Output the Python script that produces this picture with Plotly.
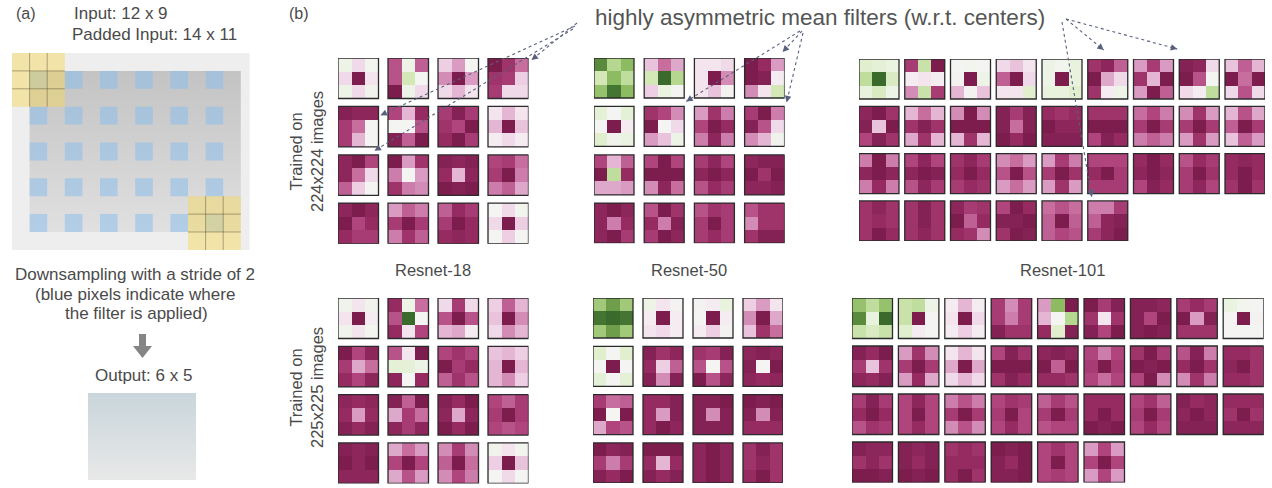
import plotly.graph_objects as go

W, H = 1272, 488
FONT = "Liberation Sans, Arial, Helvetica, sans-serif"
TXT = "#4a4a4a"

# ---------------- data: mean 3x3 filters (PiYG-like scale, -1 = dark pink, +1 = dark green)
resnet18_224 = [
    [[0.05, -0.15, 0.02], [-0.15, -1, -0.1], [0.05, -0.15, 0.03]],
    [[-0.65, 0.05, -0.6], [-0.65, 0.25, 0.0], [-1, 0.05, -0.15]],
    [[-0.2, -0.4, 0.0], [-0.45, -1, -0.4], [-0.15, -0.3, -0.1]],
    [[-1, -0.8, -0.55], [-0.8, -0.75, -0.2], [-0.75, -0.15, -0.15]],
    [[-0.95, -0.9, -0.9], [-0.75, -0.55, 0.0], [-0.75, -0.3, 0.0]],
    [[-0.7, -0.3, -0.85], [0.0, 0.0, -0.65], [-0.95, -0.6, -1]],
    [[-0.75, -0.95, -0.75], [-0.8, -0.7, -1], [-0.85, -1, -0.75]],
    [[-0.1, -0.3, -0.1], [-0.3, -1, -0.25], [-0.05, -0.15, -0.05]],
    [[-0.9, -1, -0.7], [-0.9, -0.55, -0.15], [-0.6, -0.2, 0.0]],
    [[-1, -0.4, -0.8], [-0.5, 0.0, -0.4], [-0.8, -0.5, -0.45]],
    [[-0.95, -0.9, -0.95], [-0.85, -0.3, -0.9], [-1, -0.95, -1]],
    [[-0.7, -0.75, -0.55], [-0.75, -1, -0.5], [-0.5, -0.6, -0.35]],
    [[-0.9, -1, -0.9], [-1, -0.7, -0.85], [-0.85, -0.75, -0.75]],
    [[-0.4, -0.6, -0.5], [-0.75, -1, -0.75], [-0.5, -0.8, -0.6]],
    [[-0.6, -0.85, -0.75], [-0.75, -1, -0.85], [-0.85, -0.9, -0.85]],
    [[0.0, -0.15, 0.02], [-0.15, -1, -0.2], [0.0, -0.2, 0.0]],
]
resnet18_225 = [
    [[0.03, -0.1, 0.03], [-0.1, -1, -0.05], [0.03, -0.1, 0.02]],
    [[-0.85, 0.05, -0.55], [-0.65, 1.0, 0.0], [-0.85, -0.1, -0.7]],
    [[-0.15, -0.75, -0.15], [-0.65, -1, -0.65], [-0.3, -0.35, -0.05]],
    [[-0.2, -0.6, -0.3], [-0.25, -1, -0.45], [-0.15, -0.45, -0.3]],
    [[-1, -0.7, -0.9], [-0.75, -0.35, -0.55], [-0.85, -0.7, -0.9]],
    [[-0.65, -0.1, -1], [0.12, 0.12, 0.05], [-0.9, 0.0, -0.85]],
    [[-0.7, -0.8, -0.7], [-1, -0.75, -0.85], [-0.6, -0.8, -0.65]],
    [[-0.25, -0.3, -0.2], [-0.3, -1, -0.3], [-0.3, -0.45, -0.2]],
    [[-0.9, -0.85, -0.9], [-0.85, -0.4, -0.85], [-0.95, -0.85, -0.95]],
    [[-0.95, -0.6, -1], [-0.35, -0.75, -0.55], [-0.9, -0.75, -0.9]],
    [[-0.95, -0.85, -1], [-0.9, -0.35, -0.9], [-1, -0.85, -1]],
    [[-0.7, -0.6, -0.75], [-0.75, -1, -0.75], [-0.7, -0.65, -0.7]],
    [[-0.95, -0.9, -0.95], [-1, -0.9, -1], [-0.9, -0.9, -0.9]],
    [[-0.35, -0.55, -0.4], [-0.7, -1, -0.7], [-0.35, -0.65, -0.4]],
    [[-0.45, -0.75, -0.45], [-0.6, -1, -0.55], [-0.45, -0.7, -0.5]],
    [[0.03, -0.1, 0.02], [-0.2, -1, -0.25], [0.0, -0.15, 0.0]],
]
resnet50_224 = [
    [[0.85, 0.4, 0.6], [0.25, 0.6, 0.35], [0.55, 0.95, 0.6]],
    [[-0.25, -0.55, -0.35], [0.25, 1.0, 0.4], [-0.2, 0.08, 0.0]],
    [[-0.1, -0.1, -0.15], [-0.1, -1, -0.45], [-0.1, -0.25, -0.02]],
    [[-1, -0.85, -0.4], [-1, -0.95, -0.05], [-0.45, -0.1, 0.25]],
    [[0.12, 0.0, 0.12], [0.0, -1, -0.05], [0.15, 0.03, 0.08]],
    [[-0.8, -0.7, -0.45], [-1, 0.0, -0.15], [-0.4, -0.25, 0.05]],
    [[-0.4, -0.8, -0.5], [-0.7, -1, -0.85], [-0.5, -0.9, -0.5]],
    [[-0.75, -1, -0.5], [-0.95, -0.65, -0.15], [-0.45, -0.3, 0.03]],
    [[-0.7, -0.3, -0.6], [-1, 0.35, -0.85], [-0.35, -0.35, -0.4]],
    [[-0.7, -1, -0.7], [-1, -1, -1], [-0.45, -0.9, -0.55]],
    [[-0.75, -0.9, -0.7], [-0.9, -1, -0.9], [-0.65, -0.85, -0.75]],
    [[-0.9, -0.95, -0.95], [-1, -0.8, -1], [-0.9, -0.9, -0.95]],
    [[-0.9, -1, -0.9], [-0.9, -0.5, -0.85], [-0.9, -1, -0.75]],
    [[-0.65, -1, -0.8], [-0.85, -0.5, -0.95], [-0.75, -1, -0.9]],
    [[-0.65, -0.8, -0.75], [-0.75, -1, -0.75], [-0.75, -0.85, -0.75]],
    [[-0.65, -0.8, -0.8], [-0.45, -0.8, -0.8], [-0.8, -0.95, -0.95]],
]
resnet50_225 = [
    [[0.5, 0.75, 0.5], [0.95, 1.0, 0.95], [0.5, 0.75, 0.5]],
    [[0.05, -0.1, -0.02], [-0.05, -1, -0.05], [-0.1, -0.15, -0.05]],
    [[-0.02, -0.05, 0.1], [0.0, -1, -0.05], [-0.05, -0.2, -0.02]],
    [[-0.2, -0.4, -0.1], [-0.45, -1, -0.35], [-0.25, -0.8, -0.55]],
    [[0.15, 0.0, 0.15], [0.0, -1, 0.0], [0.12, 0.0, 0.12]],
    [[-0.95, -0.8, -0.9], [-0.85, -0.2, -0.6], [-0.95, -0.45, -0.95]],
    [[-0.8, -0.75, -0.95], [-0.65, 0.0, -0.65], [-1, -0.65, -0.9]],
    [[-0.9, -0.95, -0.9], [-0.95, 0.0, -1], [-0.9, -0.85, -0.9]],
    [[-0.75, -0.55, -0.6], [-1, 0.0, -1], [-0.35, -0.7, -0.65]],
    [[-0.85, -0.85, -0.95], [-0.85, -0.4, -0.95], [-0.85, -1, -0.9]],
    [[-0.95, -0.95, -1], [-0.95, -0.45, -0.95], [-0.95, -0.95, -0.95]],
    [[-1, -0.95, -1], [-0.95, -0.45, -0.95], [-0.85, -0.85, -0.85]],
    [[-1, -0.9, -0.95], [-0.75, -0.5, -0.75], [-0.95, -0.85, -1]],
    [[-1, -1, -1], [-0.85, -0.3, -0.85], [-0.95, -0.85, -0.95]],
    [[-0.9, -1, -0.9], [-0.9, -1, -0.9], [-0.9, -1, -0.9]],
    [[-0.8, -0.95, -0.8], [-0.8, -0.9, -0.8], [-0.85, -1, -0.8]],
]
resnet101_224 = [
    [[0.15, 0.12, 0.08], [0.35, 1.0, 0.2], [0.1, 0.2, 0.05]],
    [[-0.75, 0.3, -1], [-0.05, -0.1, -0.05], [-0.45, 0.3, -0.75]],
    [[0.0, 0.02, 0.0], [-0.02, -1, 0.05], [-0.3, -0.02, -0.25]],
    [[-0.15, -0.25, -0.1], [-0.6, -1, -0.15], [-0.1, -0.1, 0.15]],
    [[0.05, 0.02, 0.1], [0.05, -1, 0.1], [0.1, 0.1, 0.15]],
    [[-0.8, -0.9, -0.6], [-1, -0.35, -0.15], [-0.8, -0.05, 0.05]],
    [[-0.4, -0.75, -0.4], [-0.8, -0.3, -1], [-0.4, -1, -0.6]],
    [[-0.95, -0.9, -0.15], [-1, -0.65, 0.0], [-0.15, -0.05, 0.35]],
    [[-0.25, -0.6, -0.3], [-1, -0.55, -1], [-0.15, -0.65, -0.15]],
    [[-0.9, -1, -0.8], [-0.95, -0.25, -1], [-0.7, -0.95, -0.8]],
    [[-0.3, -0.55, -0.3], [-0.8, -0.95, -0.8], [-0.35, -0.8, -0.3]],
    [[-0.45, -1, -0.45], [-1, -1, -1], [-0.3, -0.8, -0.3]],
    [[-0.95, -0.75, -0.95], [-0.95, -0.55, -0.95], [-1, -0.85, -1]],
    [[-0.85, -0.8, -0.85], [-1, -0.9, -0.9], [-0.95, -0.95, -0.95]],
    [[-0.8, -0.8, -0.8], [-1, -1, -1], [-0.7, -0.95, -0.85]],
    [[-0.55, -0.7, -0.5], [-0.75, -1, -0.75], [-0.5, -0.6, -0.5]],
    [[-0.45, -0.8, -0.4], [-0.75, -1, -0.75], [-0.4, -0.8, -0.4]],
    [[-0.3, -0.65, -0.35], [-0.6, -1, -0.75], [-0.25, -0.6, -0.4]],
    [[-0.5, -1, -0.5], [-0.9, -1, -0.9], [-0.5, -0.85, -0.5]],
    [[-0.7, -0.9, -0.7], [-0.9, -1, -0.95], [-0.65, -0.9, -0.75]],
    [[-0.8, -0.9, -0.75], [-0.85, -1, -0.85], [-0.75, -0.85, -0.8]],
    [[-0.45, -0.55, -0.4], [-0.65, -1, -0.65], [-0.4, -0.55, -0.4]],
    [[-0.4, -0.75, -0.5], [-0.75, -1, -0.8], [-0.4, -0.8, -0.4]],
    [[-0.7, -0.7, -0.7], [-0.85, -1, -0.75], [-0.75, -0.75, -0.75]],
    [[-0.85, -1, -0.85], [-0.9, -1, -0.9], [-0.7, -0.95, -0.85]],
    [[-0.65, -0.85, -0.75], [-0.75, -1, -0.8], [-0.75, -0.9, -0.7]],
    [[-0.85, -0.9, -0.85], [-0.85, -1, -0.85], [-0.8, -1, -0.8]],
    [[-0.8, -0.9, -0.8], [-0.8, -0.85, -0.8], [-0.8, -1, -0.85]],
    [[-0.8, -0.95, -0.8], [-0.8, -0.95, -0.8], [-0.8, -0.9, -0.8]],
    [[-0.9, -0.75, -0.8], [-1, -0.6, -0.85], [-0.85, -0.8, -0.45]],
    [[-0.7, -1, -0.85], [-0.95, -0.95, -1], [-0.8, -1, -0.95]],
    [[-0.55, -0.65, -0.55], [-0.6, -1, -0.6], [-0.6, -0.7, -0.65]],
    [[-0.5, -0.5, -0.75], [-0.6, -0.9, -0.95], [-0.75, -0.9, -1]],
]
resnet101_225 = [
    [[0.55, 0.35, 0.55], [0.85, 0.1, 1.0], [0.3, 0.2, 0.3]],
    [[0.3, 0.35, 0.05], [0.3, -1, 0.0], [0.15, -0.05, 0.0]],
    [[-0.05, -0.3, -0.05], [-0.1, -1, -0.15], [-0.05, -0.2, -0.05]],
    [[-0.75, -0.45, -0.75], [-0.75, -0.5, -0.75], [-0.95, -0.8, -0.8]],
    [[-0.4, 0.6, -1], [-0.3, 0.0, 0.4], [-0.85, 0.15, -0.95]],
    [[-1, -0.75, -0.95], [-0.8, -0.1, -0.8], [-0.95, -0.7, -1]],
    [[-0.95, -0.95, -0.9], [-0.95, -0.7, -1], [-0.95, -1, -0.95]],
    [[-0.75, -0.85, -0.75], [-1, -0.4, -0.95], [-0.8, -0.8, -0.8]],
    [[0.08, 0.02, 0.0], [0.0, -1, -0.02], [0.0, 0.0, 0.0]],
    [[-0.95, -0.85, -1], [-0.75, -0.25, -0.8], [-0.9, -0.85, -0.95]],
    [[-0.4, -0.8, -0.45], [-0.75, -1, -0.75], [-0.4, -0.85, -0.35]],
    [[-0.1, -0.3, -0.1], [-0.35, -1, -0.35], [-0.15, -0.3, -0.15]],
    [[-0.7, -0.95, -0.8], [-1, -1, -1], [-0.8, -0.95, -0.85]],
    [[-0.9, -0.95, -0.9], [-1, -0.6, -1], [-0.85, -0.85, -0.8]],
    [[-0.7, -0.5, -0.7], [-0.75, -1, -0.75], [-0.7, -0.55, -0.7]],
    [[-0.8, -1, -0.75], [-1, -0.95, -1], [-0.7, -1, -0.45]],
    [[-0.65, -0.95, -0.5], [-0.85, -1, -0.8], [-0.45, -0.8, -0.5]],
    [[-0.85, -0.85, -0.8], [-0.9, -1, -0.8], [-0.85, -0.85, -0.8]],
    [[-0.75, -0.95, -0.75], [-0.85, -1, -0.85], [-0.65, -0.8, -0.75]],
    [[-0.7, -0.9, -0.7], [-0.7, -1, -0.7], [-0.7, -0.85, -0.7]],
    [[-0.5, -0.65, -0.5], [-0.75, -1, -0.75], [-0.45, -0.65, -0.45]],
    [[-0.7, -0.8, -0.75], [-0.75, -1, -0.7], [-0.7, -0.85, -0.7]],
    [[-0.6, -0.75, -0.65], [-0.75, -1, -0.75], [-0.65, -0.7, -0.7]],
    [[-0.85, -0.85, -0.85], [-0.85, -1, -0.85], [-1, -0.95, -1]],
    [[-0.7, -0.8, -0.6], [-0.75, -1, -0.75], [-0.7, -0.85, -0.7]],
    [[-0.95, -0.85, -0.9], [-0.9, -1, -0.9], [-0.95, -0.95, -0.95]],
    [[-0.85, -0.85, -0.85], [-0.8, -1, -0.8], [-0.9, -0.9, -0.9]],
    [[-0.95, -0.9, -0.9], [-0.8, -0.9, -0.8], [-1, -1, -0.95]],
    [[-0.95, -0.9, -0.95], [-0.95, -0.85, -0.95], [-1, -0.95, -1]],
    [[-0.8, -0.85, -0.8], [-0.85, -0.85, -0.85], [-0.85, -1, -0.8]],
    [[-1, -0.95, -1], [-0.95, -0.85, -1], [-0.95, -0.95, -1]],
    [[-0.7, -0.8, -0.7], [-0.7, -1, -0.7], [-0.7, -0.75, -0.7]],
    [[-0.4, -0.7, -0.4], [-0.7, -1, -0.7], [-0.4, -0.7, -0.4]],
]

model_names = ["Resnet-18", "Resnet-50", "Resnet-101"]
train_labels = ["Trained on<br>224x224 images", "Trained on<br>225x225 images"]
input_size = (12, 9)      # cols x rows
padding = 1
stride = 2
output_size = (6, 5)
title_text = "highly asymmetric mean filters (w.r.t. centers)"

# ---------------- colour scale
scale_pts = [(-1.0, "#7c1d4e"), (-0.85, "#962b62"), (-0.7, "#b0457e"), (-0.55, "#c76e9f"),
             (-0.4, "#d99bc2"), (-0.25, "#e9c3dc"), (-0.1, "#f4e4ee"), (0.0, "#f4f4f2"),
             (0.1, "#e8f2dc"), (0.25, "#d3e8b6"), (0.4, "#b5d78f"), (0.6, "#8dbb62"),
             (0.8, "#639442"), (1.0, "#3a6a2c")]
CS = [[(v + 1) / 2, c] for v, c in scale_pts]

# ---------------- layout of the filter groups (pixel geometry)
# (data, ncols, left, top, pitch_x, pitch_y, box size)
groups = [
    (resnet18_224, 4, 338, 58, 50.0, 48.4, 40.5),
    (resnet18_225, 4, 338, 298, 50.0, 48.3, 40.5),
    (resnet50_224, 4, 594, 58, 50.2, 48.4, 40.0),
    (resnet50_225, 4, 593, 298, 50.0, 48.3, 40.0),
    (resnet101_224, 9, 859, 59, 45.75, 47.3, 40.0),
    (resnet101_225, 9, 852, 298, 46.4, 48.0, 40.5),
]


def P(x, y):
    return x / W, 1 - y / H


def axis_ids(n):
    if n == 1:
        return "x", "y", "xaxis", "yaxis"
    return f"x{n}", f"y{n}", f"xaxis{n}", f"yaxis{n}"


fig = go.Figure()
shapes, annotations, axes = [], [], {}


def filter_box(g, k):
    data, ncols, left, top, pxp, pyp, size = groups[g]
    i, j = divmod(k, ncols)
    return left + j * pxp, top + i * pyp, size


for n, (data, ncols, left, top, pxp, pyp, size) in enumerate(groups, 1):
    nrows = -(-len(data) // ncols)
    cell = size / 3
    dx, dy = pxp / cell, pyp / cell
    span_x = (ncols - 1) * pxp + size
    span_y = (nrows - 1) * pyp + size
    xr, yr, xk, yk = axis_ids(n)
    axes[xk] = dict(domain=[left / W, (left + span_x) / W], range=[0, span_x / cell],
                    visible=False, fixedrange=True, anchor=yr, type="linear")
    axes[yk] = dict(domain=[1 - (top + span_y) / H, 1 - top / H], range=[span_y / cell, 0],
                    visible=False, fixedrange=True, anchor=xr, type="linear")
    z = [[None] * (4 * ncols - 1) for _ in range(4 * nrows - 1)]
    for k, f in enumerate(data):
        i, j = divmod(k, ncols)
        for r in range(3):
            for c in range(3):
                z[4 * i + r][4 * j + c] = f[r][c]
        shapes.append(dict(type="rect", xref=xr, yref=yr, x0=j * dx, x1=j * dx + 3,
                           y0=i * dy, y1=i * dy + 3, line=dict(color="#2b2b2b", width=1.3)))
    xe = [j * dx + c for j in range(ncols) for c in range(4)]
    ye = [i * dy + r for i in range(nrows) for r in range(4)]
    fig.add_trace(go.Heatmap(z=z, x=xe, y=ye, xaxis=xr, yaxis=yr, colorscale=CS,
                             zmin=-1, zmax=1, showscale=False, hoverinfo="skip"))

# ---------------- model / training labels
for m, name in enumerate(model_names):
    data, ncols, left, top, pxp, pyp, size = groups[2 * m]
    cx = left + ((ncols - 1) * pxp + size) / 2
    x, y = P(cx, 270)
    annotations.append(dict(text=name, x=x, y=y, xref="paper", yref="paper", showarrow=False,
                            xanchor="center", yanchor="middle", font=dict(size=16.5, color=TXT)))
for t, (lab, cy) in enumerate(zip(train_labels, [152, 388])):
    x, y = P(306, cy)
    annotations.append(dict(text=lab, x=x, y=y, xref="paper", yref="paper", showarrow=False,
                            textangle=-90, xanchor="center", yanchor="middle",
                            font=dict(size=16.5, color=TXT)))

# ---------------- title and arrows
x, y = P(820, 17)
annotations.append(dict(text=title_text, x=x, y=y, xref="paper", yref="paper", showarrow=False,
                        xanchor="center", yanchor="middle", font=dict(size=22.5, color="#555555")))
arrows = [
    (0, 3, 1.0, 0.0, 3, 2, 577, 23),
    (0, 4, 1.0, 0.22, 2, 0, 575, 26),
    (0, 8, 0.9, 0.0, 0, -4, 573, 29),
    (2, 3, 0.95, 0.0, 0, -6, 802, 31),
    (2, 7, 1.05, 0.0, 0, -4, 803, 33),
    (2, 5, 1.0, 0.0, 2, -5, 800, 31),
    (4, 5, 0.4, 0.0, 0, -9, 1066, 19),
    (4, 7, 0.0, 0.0, -2, -10, 1066, 19),
    (4, 32, 0.1, 0.0, 0, -4, 1062, 22),
]
ACOL = "#59607f"
for g, k, fx, fy, ox, oy, sx, sy in arrows:
    bx, by, s = filter_box(g, k)
    hx, hy = bx + fx * s + ox, by + fy * s + oy
    x0, y0 = P(sx, sy)
    x1, y1 = P(hx, hy)
    shapes.append(dict(type="line", xref="paper", yref="paper", x0=x0, y0=y0, x1=x1, y1=y1,
                       line=dict(color=ACOL, width=1.1, dash="dot")))
    L = ((hx - sx) ** 2 + (hy - sy) ** 2) ** 0.5
    annotations.append(dict(text="", x=x1, y=y1, xref="paper", yref="paper", showarrow=True,
                            ax=-(hx - sx) / L * 7, ay=-(hy - sy) / L * 7, arrowhead=2,
                            arrowsize=1.3, arrowwidth=1, arrowcolor=ACOL, standoff=0))

# ---------------- panel (a): padded input
pc, pr = input_size[0] + 2 * padding, input_size[1] + 2 * padding
axes["xaxis7"] = dict(domain=[12 / W, (12 + pc * 17.6) / W], range=[0, pc], visible=False,
                      fixedrange=True, anchor="y7")
axes["yaxis7"] = dict(domain=[1 - (53 + pr * 17.9) / H, 1 - 53 / H], range=[pr, 0], visible=False,
                      fixedrange=True, anchor="x7")
shapes.append(dict(type="rect", xref="x7", yref="y7", x0=0, x1=pc - 0.5, y0=0, y1=pr,
                   fillcolor="#eeeeee", line=dict(width=0), layer="below"))
fig.add_trace(go.Scatter(
    x=[padding, padding + input_size[0], padding + input_size[0], padding, padding],
    y=[padding, padding, padding + input_size[1], padding + input_size[1], padding],
    xaxis="x7", yaxis="y7", mode="lines", line=dict(width=0, color="rgba(0,0,0,0)"),
    fill="toself", fillgradient=dict(type="vertical", colorscale=[[0, "#c3c3c3"], [1, "#e0e0e0"]],
                                     start=padding, stop=padding + input_size[1]),
    hoverinfo="skip", showlegend=False))
for i in range(output_size[0]):
    for j in range(output_size[1]):
        cx, cy = padding + stride * i, padding + stride * j
        shapes.append(dict(type="rect", xref="x7", yref="y7", x0=cx, x1=cx + 1, y0=cy, y1=cy + 1,
                           fillcolor="rgba(140,190,235,0.55)", line=dict(width=0)))
for (cx, cy) in [(padding, padding),
                 (padding + stride * (output_size[0] - 1), padding + stride * (output_size[1] - 1))]:
    shapes.append(dict(type="rect", xref="x7", yref="y7", x0=cx - 1, x1=cx + 2, y0=cy - 1, y1=cy + 2,
                       fillcolor="rgba(245,215,100,0.5)", line=dict(width=0)))
    for d in (0, 1):
        shapes.append(dict(type="line", xref="x7", yref="y7", x0=cx + d, x1=cx + d, y0=cy - 1, y1=cy + 2,
                           line=dict(color="rgba(80,70,40,0.55)", width=0.8)))
        shapes.append(dict(type="line", xref="x7", yref="y7", x0=cx - 1, x1=cx + 2, y0=cy + d, y1=cy + d,
                           line=dict(color="rgba(80,70,40,0.55)", width=0.8)))

# output box
axes["xaxis8"] = dict(domain=[88 / W, 196 / W], range=[0, output_size[0]], visible=False,
                      fixedrange=True, anchor="y8")
axes["yaxis8"] = dict(domain=[1 - 480 / H, 1 - 393 / H], range=[output_size[1], 0], visible=False,
                      fixedrange=True, anchor="x8")
fig.add_trace(go.Scatter(
    x=[0, output_size[0], output_size[0], 0, 0], y=[0, 0, output_size[1], output_size[1], 0],
    xaxis="x8", yaxis="y8", mode="lines", line=dict(width=0, color="rgba(0,0,0,0)"),
    fill="toself", fillgradient=dict(type="vertical", colorscale=[[0, "#c9d6db"], [1, "#e8e8e8"]],
                                     start=0, stop=output_size[1]),
    hoverinfo="skip", showlegend=False))

# gray down arrow
pts = [(139, 334), (146, 334), (146, 346), (152, 346), (142.5, 358), (133, 346), (139, 346)]
path = "M " + " L ".join(f"{P(a, b)[0]:.5f},{P(a, b)[1]:.5f}" for a, b in pts) + " Z"
shapes.append(dict(type="path", xref="paper", yref="paper", path=path, fillcolor="#858585",
                   line=dict(width=0)))

# panel (a) texts
for text, px_, py_, anchor, size in [
    ("(a)", 14, 13, "left", 16),
    ("(b)", 287, 14, "left", 16),
    (f"Input: {input_size[0]} x {input_size[1]}", 72, 14, "left", 17),
    (f"Padded Input: {pc} x {pr}", 70, 34, "left", 17),
    (f"Downsampling with a stride of {stride}", 135, 274, "center", 17),
    ("(blue pixels indicate where", 135, 294, "center", 17),
    ("the filter is applied)", 136, 313, "center", 17),
    (f"Output: {output_size[0]} x {output_size[1]}", 143, 375, "center", 17),
]:
    x, y = P(px_, py_)
    annotations.append(dict(text=text, x=x, y=y, xref="paper", yref="paper", showarrow=False,
                            xanchor=anchor, yanchor="middle", align="center",
                            font=dict(size=size, color=TXT)))

fig.update_layout(width=W, height=H, margin=dict(l=0, r=0, t=0, b=0, pad=0),
                  paper_bgcolor="white", plot_bgcolor="rgba(0,0,0,0)", showlegend=False,
                  font=dict(family=FONT, color=TXT), shapes=shapes, annotations=annotations,
                  **axes)
fig.write_html("out.html", config={"displayModeBar": False},
               post_script="document.body.style.margin='0px';")
